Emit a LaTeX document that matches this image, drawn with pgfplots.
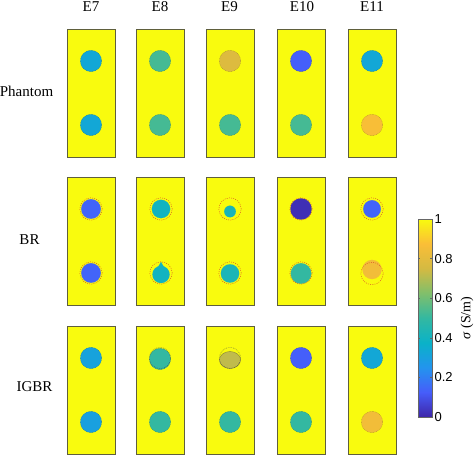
\documentclass[border=0pt]{standalone}
\usepackage{pgfplots}
\pgfplotsset{compat=1.18}
\usepackage{fontspec}
\setmainfont{Liberation Serif}
\newfontfamily\arial{Liberation Sans}
\definecolor{pyellow}{RGB}{249,251,14}
\definecolor{brdash}{RGB}{215,70,40}
\definecolor{frame}{RGB}{95,95,60}
\pgfplotsset{
  colormap={parula}{rgb255=(62,38,168) rgb255=(70,93,250) rgb255=(35,148,238) rgb255=(10,178,200) rgb255=(51,184,161) rgb255=(128,191,107) rgb255=(212,186,66) rgb255=(250,190,55) rgb255=(249,251,14)},
  panel/.style={anchor=south west, width=48pt, height=128pt, scale only axis,
    xmin=0, xmax=48, ymin=0, ymax=128, xtick=\empty, ytick=\empty,
    axis background/.style={fill=pyellow},
    axis line style={draw=frame, line width=0.7pt},
    colormap name=parula, point meta min=0, point meta max=1, clip=false},
  disc/.style={scatter, only marks, mark=*, point meta=explicit,
    scatter/use mapped color={draw=mapped color!70!black, fill=mapped color},
    mark options={line width=0.3pt, dash pattern=on 0.8pt off 0.8pt}},
  blob/.style={scatter, only marks, mark=*, point meta=explicit,
    scatter/use mapped color={draw=mapped color, fill=mapped color},
    mark options={line width=0.01pt}},
  ring/.style={only marks, mark=o, mark size=11.2pt,
    mark options={draw=brdash, line width=0.4pt, dash pattern=on 1pt off 1.2pt}},
  dring/.style={only marks, mark=o, mark size=10.6pt,
    mark options={draw=black!70, line width=0.35pt, dash pattern=on 0.8pt off 1pt}},
}
\newcommand{\panel}[3]{\begin{axis}[panel, at={(#1pt,#2pt)}]#3\end{axis}}
\begin{document}
\begin{tikzpicture}[x=1pt,y=1pt]
\useasboundingbox (0,0) rectangle (474,455);
% column titles
\foreach \cx/\t in {91/E7,160/E8,229.5/E9,302/E10,372/E11}
  \node[anchor=base, font=\fontsize{15}{15}\selectfont, inner sep=0pt] at (\cx,443) {\t};
\node[font=\fontsize{15}{15}\selectfont, inner sep=0pt] at (26.5,364) {Phantom};
\node[font=\fontsize{15}{15}\selectfont, inner sep=0pt] at (29.5,215) {BR};
\node[font=\fontsize{15}{15}\selectfont, inner sep=0pt] at (34.5,68) {IGBR};

% ---------------- Phantom row ----------------
\panel{67}{298}{\addplot[disc, mark size=10.7pt] coordinates {(24,96) [0.33] (24,32) [0.33]};}
\panel{136}{298}{\addplot[disc, mark size=10.7pt] coordinates {(24,96) [0.53] (24,32) [0.53]};}
\panel{206}{298}{\addplot[disc, mark size=10.7pt] coordinates {(24,96) [0.78] (24,32) [0.53]};}
\panel{277}{298}{\addplot[disc, mark size=10.7pt] coordinates {(24,96) [0.13] (24,32) [0.53]};}
\panel{348}{298}{\addplot[disc, mark size=10.7pt] coordinates {(24,96) [0.33] (24,32) [0.87]};}

% ---------------- BR row ----------------
\panel{67}{150}{%
  \addplot[blob, mark size=9.8pt] coordinates {(24,96) [0.14] (24,32) [0.14]};
  \addplot[ring] coordinates {(24,96) (24,32)};}
\panel{136}{150}{%
  \addplot[blob, mark size=9.2pt] coordinates {(25,96) [0.40]};
  \addplot[blob, mark size=8.6pt] coordinates {(25,30.5) [0.40]};
  \addplot[blob, mark=triangle*, mark size=8pt] coordinates {(25,35) [0.40]};
  \addplot[ring] coordinates {(25,96) (25,32)};}
\panel{206}{150}{%
  \addplot[blob, mark size=5.8pt] coordinates {(24,93.5) [0.42]};
  \addplot[blob, mark size=9.2pt] coordinates {(24,31.5) [0.43]};
  \addplot[ring] coordinates {(24,96) (24,32)};}
\panel{277}{150}{%
  \addplot[blob, mark size=10.6pt] coordinates {(24,96) [0.02]};
  \addplot[blob, mark size=10.3pt] coordinates {(24,31.5) [0.50]};
  \addplot[ring] coordinates {(24,96) (24,32)};}
\panel{348}{150}{%
  \addplot[blob, mark size=8.8pt] coordinates {(24,96) [0.14]};
  \addplot[blob, mark size=9.6pt] coordinates {(24,35.5) [0.85]};
  \addplot[ring] coordinates {(24,96) (24,31.5)};}

% ---------------- IGBR row ----------------
\panel{67}{1}{\addplot[disc, mark size=10.7pt] coordinates {(24,96) [0.31] (24,32) [0.30]};}
\panel{136}{1}{\addplot[disc, mark size=10.7pt] coordinates {(24,95) [0.50] (24,32) [0.50]};
  \addplot[dring] coordinates {(24,96)};}
\panel{206}{1}{%
  \addplot[disc, mark size=10.6pt, mark options={yscale=0.8}] coordinates {(24,94) [0.72]};
  \addplot[disc, mark size=10.7pt] coordinates {(24,32) [0.50]};
  \addplot[dring] coordinates {(24,96)};}
\panel{277}{1}{\addplot[disc, mark size=10.7pt] coordinates {(24,96) [0.13] (24,32) [0.50]};}
\panel{348}{1}{\addplot[disc, mark size=10.7pt] coordinates {(24,96) [0.33] (24,32) [0.85]};}

% ---------------- colorbar ----------------
\begin{axis}[anchor=south west, at={(418pt,38pt)}, width=14pt, height=198pt, scale only axis,
  xmin=0, xmax=1, ymin=0, ymax=1, xtick=\empty,
  ytick={0,0.2,0.4,0.6,0.8,1}, yticklabels={0,0.2,0.4,0.6,0.8,1},
  yticklabel pos=right, ytick align=inside, major tick length=2pt,
  tick style={draw=black!60, line width=0.3pt},
  axis line style={draw=black!60, line width=0.4pt},
  yticklabel style={font=\arial\fontsize{13}{13}\selectfont, xshift=-1pt},
  /pgf/number format/assume math mode=true,
  colormap name=parula, point meta min=0, point meta max=1,
  axis on top]
\addplot[surf, shader=interp, point meta=y] coordinates {
(0,0) (1,0)

(0,1) (1,1)
};
\end{axis}
\node[rotate=90, font=\fontsize{14}{14}\selectfont, inner sep=0pt] at (467,137) {\textit{σ} (S/m)};
\end{tikzpicture}
\end{document}
